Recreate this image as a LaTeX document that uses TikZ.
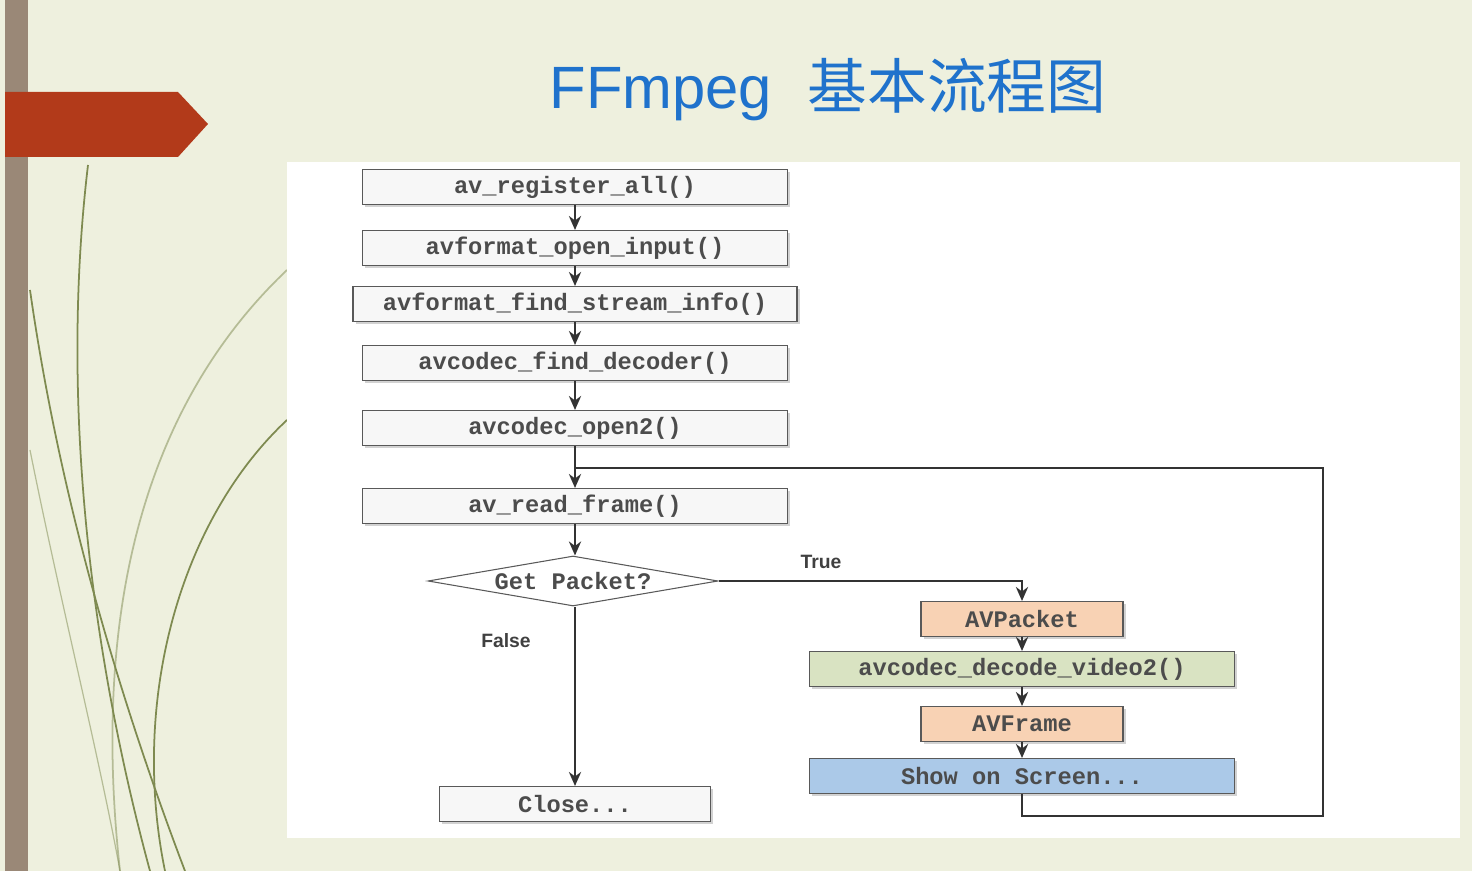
\documentclass[tikz,border=0pt]{standalone}
\usepackage{fontspec}
\setmainfont{Liberation Sans}
\newfontfamily\cjk{Noto Sans CJK SC}
\newfontfamily\mono{Liberation Mono}
\usetikzlibrary{shapes.geometric,arrows.meta,shadows}
\definecolor{bgc}{HTML}{EEF0DE}
\definecolor{titleblue}{HTML}{1F72CC}
\definecolor{redarrow}{HTML}{B23A1A}
\definecolor{pkt}{HTML}{F8D2B4}
\definecolor{dec}{HTML}{D9E3C2}
\definecolor{scr}{HTML}{ABC9E8}
\definecolor{decoc}{HTML}{7E8A50}
\tikzset{
  fbox/.style={draw=gray!70!black, line width=0.6pt, fill=gray!6, minimum height=35*0.02cm,
    font=\mono\bfseries\fontsize{13.5pt}{15pt}\selectfont, text=black!70, inner sep=0pt,
    drop shadow={shadow xshift=1.5pt, shadow yshift=-1.5pt, opacity=0.35}},
  arr/.style={draw=black!80, line width=1pt, -{Stealth[length=8pt,width=7pt]}},
  ln/.style={draw=black!80, line width=1pt},
  lbl/.style={font=\bfseries\fontsize{11pt}{13pt}\selectfont, text=black!75},
  deco/.style={draw=decoc, line width=1pt}
}
\begin{document}
\begin{tikzpicture}[x=0.02cm,y=-0.02cm]
\useasboundingbox (0,0) rectangle (1472,871);
\fill[bgc] (0,0) rectangle (1472,871);
\fill[black!55!brown!60] (5,0) rectangle (28,871);
% decorative curves
\draw[deco] (88,165) .. controls (60,400) and (90,650) .. (150,871);
\draw[deco] (30,290) .. controls (60,500) and (120,700) .. (185,871);
\draw[deco,draw opacity=0.5] (287,270) .. controls (150,400) and (90,600) .. (120,871);
\draw[deco] (287,420) .. controls (180,520) and (130,700) .. (165,871);
\draw[deco,line width=0.7pt,draw opacity=0.5] (30,450) .. controls (60,600) and (100,760) .. (120,871);
\fill[redarrow] (5,92) -- (178,92) -- (208,124) -- (178,157) -- (5,157) -- cycle;
\node (title) at (828,90) {\fontsize{34pt}{40pt}\selectfont\color{titleblue}FFmpeg\hspace{0.6em}{\cjk 基本流程图}};
\fill[white] (287,162) rectangle (1460,838);
% nodes
\node[fbox, minimum width=425*0.02cm] (n1) at (575,187) {av\_register\_all()};
\node[fbox, minimum width=425*0.02cm] (n2) at (575,248) {avformat\_open\_input()};
\node[fbox, minimum width=444*0.02cm] (n3) at (575,304) {avformat\_find\_stream\_info()};
\node[fbox, minimum width=425*0.02cm] (n4) at (575,363) {avcodec\_find\_decoder()};
\node[fbox, minimum width=425*0.02cm] (n5) at (575,428) {avcodec\_open2()};
\node[fbox, minimum width=425*0.02cm] (n6) at (575,506) {av\_read\_frame()};
\node[diamond, draw=gray!70!black, line width=0.6pt, fill=white, aspect=5.8, minimum width=290*0.02cm, minimum height=50*0.02cm, inner sep=0pt,
  font=\mono\bfseries\fontsize{13.5pt}{15pt}\selectfont, text=black!70] (d) at (573,581) {Get Packet?};
\node[fbox, minimum width=271*0.02cm] (close) at (575,804) {Close...};
\node[fbox, fill=pkt, minimum width=202*0.02cm] (pk) at (1022,619) {AVPacket};
\node[fbox, fill=dec, minimum width=425*0.02cm] (dv) at (1022,669) {avcodec\_decode\_video2()};
\node[fbox, fill=pkt, minimum width=202*0.02cm] (fr) at (1022,724) {AVFrame};
\node[fbox, fill=scr, minimum width=425*0.02cm] (sc) at (1022,776) {Show on Screen...};
% connectors
\draw[arr] (n1) -- (n2);
\draw[arr] (n2) -- (n3);
\draw[arr] (n3) -- (n4);
\draw[arr] (n4) -- (n5);
\draw[arr] (n5) -- (n6);
\draw[arr] (n6) -- (d.north -| n6.south);
\draw[arr] (d.south -| close.north) -- (close);
\coordinate (tc) at (1022,581);
\draw[arr] (d.east) -- (tc) -- (pk);
\draw[arr] (pk) -- (dv);
\draw[arr] (dv) -- (fr);
\draw[arr] (fr) -- (sc);
\coordinate (l1) at (1022,816);
\coordinate (l2) at (1323,816);
\coordinate (l3) at (1323,468);
\coordinate (l4) at (575,468);
\draw[ln] (sc) -- (l1) -- (l2) -- (l3) -- (l4);
\node[lbl] (tl) at (821,562) {True};
\node[lbl] (fl) at (506,641) {False};
\end{tikzpicture}
\end{document}
